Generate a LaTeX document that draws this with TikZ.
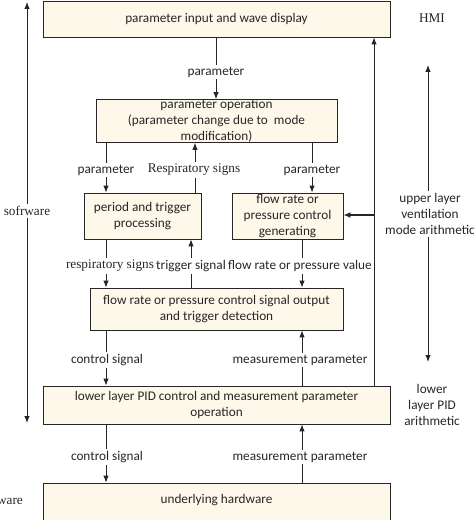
\documentclass[tikz,border=0pt]{standalone}
\usepackage{fontspec}
\setmainfont{Carlito}
\newfontfamily\seriffont{Liberation Serif}
\usetikzlibrary{arrows.meta}
\definecolor{boxfill}{HTML}{FDF8EA}
\definecolor{ink}{HTML}{262626}
\begin{document}
\begin{tikzpicture}[x=1bp,y=-1bp,
  every node/.style={text=ink,font=\fontsize{13.3}{16}\selectfont},
  blk/.style={draw=ink,fill=boxfill,line width=0.8bp,align=center,inner sep=0pt},
  lbl/.style={inner sep=2bp,align=center},
  srf/.style={font=\fontsize{13.3}{16}\selectfont\seriffont},
  ln/.style={draw=ink,line width=0.9bp},
  arr/.style={ln,-{Latex[length=7bp,width=5.5bp]}},
  harr/.style={draw=ink,line width=1.6bp,-{Latex[length=7bp,width=6bp]}}]
\useasboundingbox (0,0) rectangle (474,520);
% boxes
\node[blk,minimum width=347bp,minimum height=36bp] (b1) at (216.5,19) {parameter input and wave display};
\node[blk,minimum width=241bp,minimum height=42bp] (b2) at (216.5,121) {parameter operation\\(parameter change due to~ mode\\modification)};
\node[blk,minimum width=117bp,minimum height=46bp] (b3) at (142.5,216) {period and trigger\\processing};
\node[blk,minimum width=111bp,minimum height=46bp] (b4) at (287.5,216) {flow rate or\\pressure control\\generating};
\node[blk,minimum width=253bp,minimum height=42bp] (b5) at (216.5,309) {flow rate or pressure control signal output\\and trigger detection};
\node[blk,minimum width=347bp,minimum height=38bp] (b6) at (216.5,405) {lower layer PID control and measurement parameter\\operation};
\node[blk,minimum width=347bp,minimum height=44bp] (b7) at (216.5,505) {};
\node (b7t) at (216.5,500) {underlying hardware};
% labels
\node[lbl] (p1) at (216,72) {parameter};
\node[lbl] (p2) at (106,170) {parameter};
\node[lbl,srf] (rs1) at (194,170) {Respiratory signs};
\node[lbl] (p3) at (312,170) {parameter};
\node[lbl,srf] (rs2) at (110,266) {respiratory signs};
\node[lbl] (ts) at (191,266) {trigger signal};
\node[lbl] (fr) at (300,266) {flow rate or pressure value};
\node[lbl] (cs1) at (107,360) {control signal};
\node[lbl] (mp1) at (300,360) {measurement parameter};
\node[lbl] (cs2) at (107,457) {control signal};
\node[lbl] (mp2) at (300,457) {measurement parameter};
% connectors
\draw[ln] (b1.south -| p1) -- (p1.north);
\draw[arr] (p1.south) -- (b2.north -| p1);
\draw[ln] (b2.south -| 106,0) -- (p2.north -| 106,0);
\draw[arr] (p2.south -| 106,0) -- (b3.north -| 106,0);
\draw[ln] (b3.north -| 195,0) -- (rs1.south -| 195,0);
\draw[arr] (rs1.north -| 195,0) -- (b2.south -| 195,0);
\draw[ln] (b2.south -| p3) -- (p3.north);
\draw[arr] (p3.south) -- (b4.north -| p3);
\draw[ln] (b3.south -| 106,0) -- (rs2.north -| 106,0);
\draw[arr] (rs2.south -| 106,0) -- (b5.north -| 106,0);
\draw[ln] (b5.north -| ts) -- (ts.south);
\draw[arr] (ts.north) -- (b3.south -| ts);
\draw[ln] (b4.south -| 302,0) -- (fr.north -| 302,0);
\draw[arr] (fr.south -| 302,0) -- (b5.north -| 302,0);
\draw[ln] (b5.south -| 106,0) -- (cs1.north -| 106,0);
\draw[arr] (cs1.south -| 106,0) -- (b6.north -| 106,0);
\draw[ln] (b6.north -| 302,0) -- (mp1.south -| 302,0);
\draw[arr] (mp1.north -| 302,0) -- (b5.south -| 302,0);
\draw[ln] (b6.south -| 106,0) -- (cs2.north -| 106,0);
\draw[arr] (cs2.south -| 106,0) -- (b7.north -| 106,0);
\draw[ln] (b7.north -| 302,0) -- (mp2.south -| 302,0);
\draw[arr] (mp2.north -| 302,0) -- (b6.south -| 302,0);
% right feedback
\coordinate (fb) at (374,215);
\draw[arr] (b6.north -| fb) -- (b1.south -| fb);
\draw[harr] (fb) -- (b4.east |- fb);
% side annotations
\node[srf] (hmi) at (432,18) {HMI};
\node[lbl] (up) at (430,214) {upper layer\\ventilation\\mode arithmetic};
\coordinate (upt) at (428,65);
\coordinate (upb) at (428,362);
\draw[arr] (up.north -| upt) -- (upt);
\draw[arr] (up.south -| upb) -- (upb);
\node[lbl] (low) at (432,405) {lower\\layer PID\\arithmetic};
\node[lbl,srf] (sw) at (27,211) {sofrware};
\coordinate (swt) at (27,2);
\coordinate (swb) at (27,423);
\draw[arr] (sw.north) -- (swt);
\draw[arr] (sw.south) -- (swb);
\node[srf,anchor=east,inner sep=0pt] (hw) at (23,500) {hardware};
\end{tikzpicture}
\end{document}
